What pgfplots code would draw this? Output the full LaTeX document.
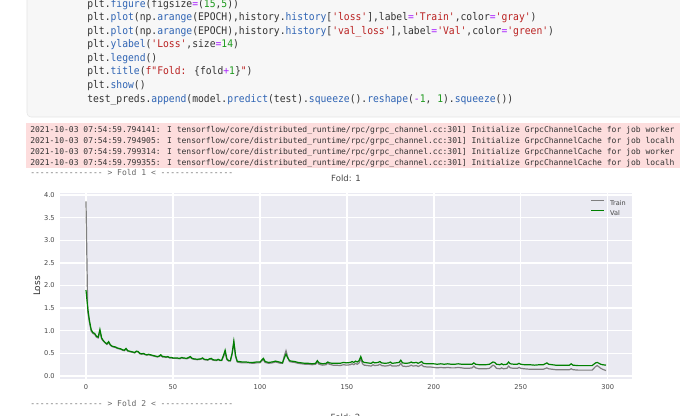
\documentclass[border=0pt]{standalone}
\usepackage{fontspec}
\setmainfont{DejaVu Sans}
\newfontfamily\codefont[FakeStretch=0.92,Ligatures=TeXOff]{DejaVu Sans Mono}
\newfontfamily\logfont[Ligatures=TeXOff]{DejaVu Sans Mono}
\usepackage{pgfplots}
\usepackage{pgfplotstable}
\pgfplotsset{compat=1.18}

\definecolor{cellbg}{HTML}{F7F7F7}
\definecolor{cellborder}{HTML}{E4E4E4}
\definecolor{logbg}{HTML}{FDDDDD}
\definecolor{codefg}{HTML}{333333}
\definecolor{codeblue}{HTML}{2F64B4}
\definecolor{codeop}{HTML}{AA22FF}
\definecolor{codenum}{HTML}{1E9A1E}
\definecolor{codestr}{HTML}{BA2121}
\definecolor{sbbg}{HTML}{EAEAF2}
\definecolor{sbtext}{HTML}{444444}

\newcommand\cb[1]{\textcolor{codeblue}{#1}}
\newcommand\co[1]{\textcolor{codeop}{#1}}
\newcommand\cn[1]{\textcolor{codenum}{#1}}
\newcommand\cs[1]{\textcolor{codestr}{#1}}

% loss per epoch
\pgfplotstableread{
ep loss
0 3.86
1 1.42
2 1.18
3 0.99
4 0.94
5 0.92
6 0.86
7 0.84
8 0.98
9 0.82
10 0.77
11 0.73
12 0.70
13 0.74
14 0.68
15 0.65
16 0.64
17 0.63
18 0.61
19 0.60
20 0.59
21 0.57
22 0.56
23 0.59
24 0.55
25 0.54
26 0.53
27 0.52
28 0.51
29 0.54
30 0.53
31 0.49
32 0.48
33 0.49
34 0.47
35 0.46
36 0.47
37 0.46
38 0.45
39 0.44
40 0.43
41 0.42
42 0.43
43 0.45
44 0.42
45 0.42
46 0.41
47 0.42
48 0.40
49 0.40
50 0.39
52 0.39
54 0.38
55 0.40
56 0.39
58 0.38
60 0.41
61 0.38
62 0.37
64 0.36
66 0.37
67 0.39
68 0.36
70 0.35
71 0.37
72 0.37
73 0.35
75 0.34
76 0.36
77 0.34
78 0.34
79 0.42
80 0.52
81 0.36
82 0.33
83 0.33
84 0.48
85 0.74
86 0.43
87 0.31
88 0.30
90 0.29
92 0.29
94 0.29
96 0.28
98 0.29
100 0.29
101 0.33
102 0.36
103 0.30
105 0.28
107 0.29
109 0.31
110 0.30
112 0.28
113 0.28
114 0.44
115 0.56
116 0.42
117 0.32
118 0.31
120 0.30
122 0.28
124 0.27
126 0.26
128 0.26
130 0.25
132 0.26
133 0.31
134 0.26
136 0.24
138 0.25
139 0.28
140 0.26
142 0.24
144 0.24
146 0.23
148 0.25
150 0.24
152 0.25
153 0.27
154 0.25
155 0.28
156 0.26
157 0.29
158 0.38
159 0.27
160 0.24
162 0.23
164 0.22
165 0.25
166 0.23
168 0.24
169 0.26
170 0.23
172 0.22
174 0.23
175 0.25
176 0.22
178 0.22
180 0.23
181 0.28
182 0.22
184 0.21
186 0.22
187 0.24
188 0.22
190 0.23
191 0.21
193 0.25
194 0.21
196 0.20
198 0.20
200 0.19
202 0.18
204 0.19
206 0.18
208 0.19
210 0.18
212 0.18
214 0.19
216 0.18
218 0.17
220 0.17
222 0.18
223 0.22
224 0.18
226 0.16
228 0.16
230 0.16
232 0.17
234 0.24
235 0.22
236 0.17
238 0.16
239 0.18
240 0.16
242 0.17
243 0.22
244 0.18
246 0.17
248 0.17
249 0.19
250 0.17
252 0.16
255 0.15
258 0.15
261 0.15
263 0.15
265 0.18
266 0.16
268 0.15
270 0.14
273 0.14
276 0.14
278 0.14
279 0.16
280 0.14
283 0.13
286 0.13
289 0.13
291 0.13
292 0.17
293 0.21
294 0.23
295 0.20
296 0.17
297 0.15
299 0.12
}\train

\pgfplotstableread{
ep loss
0 1.90
1 1.50
2 1.22
3 1.02
4 0.96
5 0.94
6 0.88
7 0.86
8 1.03
9 0.84
10 0.78
11 0.74
12 0.71
13 0.76
14 0.69
15 0.66
16 0.65
17 0.64
18 0.62
19 0.61
20 0.60
21 0.58
22 0.57
23 0.61
24 0.56
25 0.55
26 0.54
27 0.53
28 0.52
29 0.55
30 0.54
31 0.50
32 0.49
33 0.50
34 0.48
35 0.47
36 0.48
37 0.47
38 0.46
39 0.45
40 0.44
41 0.43
42 0.44
43 0.47
44 0.43
45 0.43
46 0.42
47 0.43
48 0.41
49 0.41
50 0.40
52 0.40
54 0.39
55 0.41
56 0.40
58 0.39
60 0.43
61 0.39
62 0.38
64 0.37
66 0.38
67 0.40
68 0.37
70 0.36
71 0.38
72 0.39
73 0.36
75 0.35
76 0.37
77 0.35
78 0.35
79 0.45
80 0.57
81 0.38
82 0.34
83 0.34
84 0.50
85 0.77
86 0.45
87 0.32
88 0.32
90 0.31
92 0.31
94 0.30
96 0.30
98 0.31
100 0.31
101 0.35
102 0.39
103 0.32
105 0.30
107 0.31
109 0.33
110 0.32
112 0.30
113 0.29
114 0.40
115 0.48
116 0.40
117 0.34
118 0.33
120 0.32
122 0.30
124 0.29
126 0.28
128 0.28
130 0.27
132 0.28
133 0.34
134 0.29
136 0.27
138 0.28
139 0.31
140 0.29
142 0.28
144 0.28
146 0.28
148 0.30
150 0.29
152 0.30
153 0.32
154 0.30
155 0.33
156 0.31
157 0.34
158 0.43
159 0.32
160 0.30
162 0.29
164 0.28
165 0.31
166 0.29
168 0.30
169 0.32
170 0.29
172 0.28
174 0.29
175 0.31
176 0.28
178 0.29
180 0.30
181 0.35
182 0.29
184 0.28
186 0.29
187 0.31
188 0.29
190 0.30
191 0.28
193 0.32
194 0.28
196 0.27
198 0.27
200 0.27
202 0.26
204 0.27
206 0.26
208 0.27
210 0.26
212 0.26
214 0.27
216 0.26
218 0.26
220 0.26
222 0.26
223 0.29
224 0.26
226 0.25
228 0.25
230 0.25
232 0.26
234 0.31
235 0.30
236 0.26
238 0.25
239 0.27
240 0.25
242 0.26
243 0.31
244 0.27
246 0.26
248 0.26
249 0.28
250 0.26
252 0.25
255 0.25
258 0.24
261 0.25
263 0.25
265 0.29
266 0.26
268 0.25
270 0.24
273 0.24
276 0.24
278 0.24
279 0.27
280 0.24
283 0.23
286 0.23
289 0.23
291 0.23
292 0.26
293 0.29
294 0.30
295 0.28
296 0.26
297 0.25
299 0.24
}\val

\begin{document}
\begin{tikzpicture}[x=0.75pt,y=0.75pt]
\useasboundingbox (0,0) rectangle (680,415);
\begin{scope}
\clip (0,0) rectangle (680,415);

% code cell
\draw[cellborder, fill=cellbg, rounded corners=3pt] (27,298) rectangle (720,440);
\begin{scope}[every node/.style={anchor=base west, inner sep=0pt, text=codefg,
    font=\codefont\fontsize{7.9pt}{9pt}\selectfont}]
\node at (87,407.5) {plt.\cb{figure}(figsize\co{=}(\cn{15},\cn{5}))};
\node at (87,394) {plt.\cb{plot}(np.\cb{arange}(EPOCH),history.\cb{history}[\cs{'loss'}],label\co{=}\cs{'Train'},color\co{=}\cs{'gray'})};
\node at (87,380.5) {plt.\cb{plot}(np.\cb{arange}(EPOCH),history.\cb{history}[\cs{'val\_loss'}],label\co{=}\cs{'Val'},color\co{=}\cs{'green'})};
\node at (87,367) {plt.\cb{ylabel}(\cs{'Loss'},size\co{=}\cn{14})};
\node at (87,353.5) {plt.\cb{legend}()};
\node at (87,340) {plt.\cb{title}(\cs{f"Fold: }\{fold\co{+}\cn{1}\}\cs{"})};
\node at (87,326.5) {plt.\cb{show}()};
\node at (87,313) {test\_preds.\cb{append}(model.\cb{predict}(test).\cb{squeeze}().\cb{reshape}(\co{-}\cn{1}, \cn{1}).\cb{squeeze}())};
\end{scope}

% stderr log (the screenshot cuts it at the right edge)
\fill[logbg] (26,247) rectangle (720,292);
\begin{scope}[every node/.style={anchor=base west, inner sep=0pt, text=codefg,
    font=\logfont\fontsize{6.02pt}{7pt}\selectfont}]
\node at (30,282.5) {2021-10-03 07:54:59.794141: I tensorflow/core/distributed\_runtime/rpc/grpc\_channel.cc:301] Initialize GrpcChannelCache for job worker};
\node at (30,271.5) {2021-10-03 07:54:59.794905: I tensorflow/core/distributed\_runtime/rpc/grpc\_channel.cc:301] Initialize GrpcChannelCache for job localh};
\node at (30,260.5) {2021-10-03 07:54:59.799314: I tensorflow/core/distributed\_runtime/rpc/grpc\_channel.cc:301] Initialize GrpcChannelCache for job worker};
\node at (30,250) {2021-10-03 07:54:59.799355: I tensorflow/core/distributed\_runtime/rpc/grpc\_channel.cc:301] Initialize GrpcChannelCache for job localh};
\node[text=black!60] at (30,240) {--------------- > Fold 1 < ---------------};
\node[text=black!60] at (30,9) {--------------- > Fold 2 < ---------------};
\end{scope}
\node[anchor=base, inner sep=0pt, text=sbtext, font=\fontsize{6.4pt}{7.5pt}\selectfont] at (345.5,-5) {Fold: 2};

\begin{axis}[
    at={(45pt,27pt)}, anchor=south west,
    scale only axis, width=429pt, height=139.5pt,
    xmin=-14.95, xmax=313.95, ymin=-0.066, ymax=4.044,
    xtick={0,50,...,300}, ytick={0,0.5,...,4},
    axis background/.style={fill=sbbg},
    axis line style={draw=none},
    major tick length=0pt,
    grid=major, grid style={white, line width=1pt},
    /pgf/number format/assume math mode=true,
    y tick label style={/pgf/number format/fixed, /pgf/number format/fixed zerofill,
        /pgf/number format/precision=1},
    ticklabel style={font=\fontsize{5pt}{6pt}\selectfont, text=sbtext, inner sep=0pt},
    xticklabel style={anchor=north, yshift=-3.8pt},
    yticklabel style={anchor=east, xshift=-3.75pt},
    ylabel={Loss},
    every axis y label/.style={at={(axis description cs:-0.0403,0.5)}, rotate=90,
        anchor=center, font=\fontsize{6.8pt}{8pt}\selectfont, text=black!80},
    title={Fold: 1},
    title style={at={(0.5,1)}, anchor=base, yshift=3pt, inner sep=0pt,
        font=\fontsize{6.4pt}{7.5pt}\selectfont, text=sbtext},
    legend style={at={(1,1)}, anchor=north east, xshift=-4.5pt, yshift=-5pt,
        draw=none, fill=none, inner sep=0pt, row sep=3.8pt, column sep=4pt,
        font=\fontsize{4.9pt}{5.8pt}\selectfont, text=sbtext,
        nodes={inner sep=0pt, text height=3.7pt, text depth=0pt}},
    legend cell align=left,
    legend image code/.code={\draw[#1, line width=0.8pt] (0pt,1.7pt) -- (9.75pt,1.7pt);},
]
\addplot[color=gray, line width=0.9pt] table[x=ep, y=loss] {\train};
\addplot[color=green!50!black, line width=0.9pt] table[x=ep, y=loss] {\val};
\legend{Train,Val}
\end{axis}
\end{scope}
\end{tikzpicture}
\end{document}
